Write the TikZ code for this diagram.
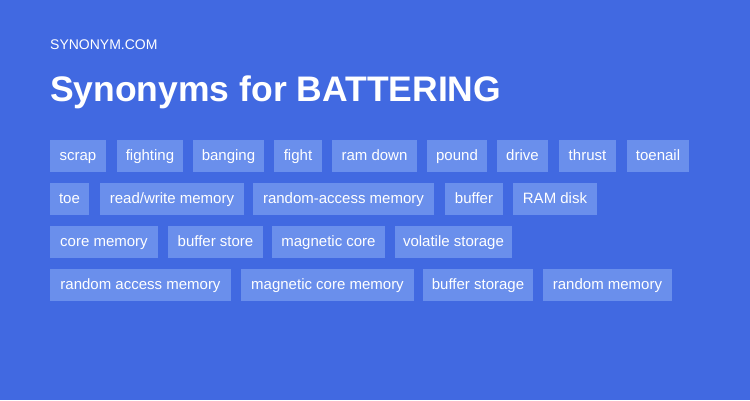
\documentclass[tikz,border=0pt]{standalone}
\usepackage{fontspec}
\setmainfont{Liberation Sans}
\definecolor{bg}{HTML}{4169E1}
\definecolor{box}{HTML}{6A8FEC}
\begin{document}
\begin{tikzpicture}[x=1pt,y=-1pt,
  syn/.style={fill=box,text=white,inner sep=0pt,minimum height=32pt,text height=11pt,text depth=3pt,font=\fontsize{15}{17}\selectfont,anchor=center}]
\useasboundingbox[fill=bg] (0,0) rectangle (750,400);
\node[text=white,anchor=base west,inner sep=0pt,font=\fontsize{14}{16}\selectfont] (site) at (50,49) {SYNONYM.COM};
\node[text=white,anchor=base west,inner sep=0pt,font=\bfseries\fontsize{35.5}{40}\selectfont] (title) at (50,101) {Synonyms for BATTERING};
\newcommand\wbox[5]{\node[syn,minimum width={#3-#2}] (#1) at ({(#2+#3)/2},#4) {#5};}
\wbox{a1}{50}{106}{156}{scrap}
\wbox{a2}{117}{183}{156}{fighting}
\wbox{a3}{193}{264}{156}{banging}
\wbox{a4}{274}{322}{156}{fight}
\wbox{a5}{332}{417}{156}{ram down}
\wbox{a6}{427}{487}{156}{pound}
\wbox{a7}{497}{548}{156}{drive}
\wbox{a8}{559}{616}{156}{thrust}
\wbox{a9}{627}{689}{156}{toenail}
\wbox{b1}{50}{89}{199}{toe}
\wbox{b2}{100}{244}{199}{read/write memory}
\wbox{b3}{253}{434}{199}{random-access memory}
\wbox{b4}{445}{503}{199}{buffer}
\wbox{b5}{513}{597}{199}{RAM disk}
\wbox{c1}{50}{158}{242}{core memory}
\wbox{c2}{168}{263}{242}{buffer store}
\wbox{c3}{272}{385}{242}{magnetic core}
\wbox{c4}{395}{512}{242}{volatile storage}
\wbox{d1}{50}{231}{285}{random access memory}
\wbox{d2}{241}{414}{285}{magnetic core memory}
\wbox{d3}{423}{533}{285}{buffer storage}
\wbox{d4}{543}{672}{285}{random memory}
\end{tikzpicture}
\end{document}
